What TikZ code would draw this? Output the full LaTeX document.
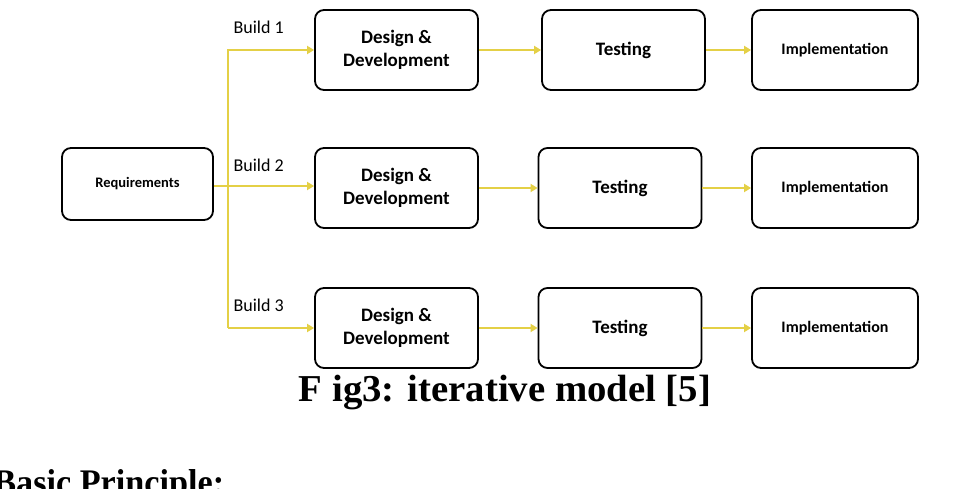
\documentclass[tikz,border=0pt]{standalone}
\usepackage{fontspec}
\setmainfont{Carlito}
\newfontfamily\capfont{Liberation Serif}
\usetikzlibrary{arrows.meta}
\definecolor{ylw}{RGB}{228,208,70}
\begin{document}
\begin{tikzpicture}[x=1pt,y=-1pt,
  box/.style={draw,line width=1.8pt,rounded corners=9pt,align=center,font=\bfseries\fontsize{19}{23}\selectfont,inner sep=0pt},
  flow/.style={draw=ylw,line width=2.6pt,-{Triangle[length=7pt,width=8pt]}},
  lbl/.style={font=\fontsize{18}{20}\selectfont,anchor=west}]
\clip (0,0) rectangle (962,489);
\useasboundingbox (0,0) rectangle (962,489);
\node[box,minimum width=151pt,minimum height=72pt,font=\bfseries\fontsize{14.5}{17}\selectfont] (req) at (137.5,184) {Requirements};
\foreach \r/\y/\tx in {1/50/623.5,2/188/620,3/328/620}{
  \node[box,minimum width=163pt,minimum height=80pt] (d\r) at (396.5,\y) {Design \&\\Development};
  \node[box,minimum width=163pt,minimum height=80pt] (t\r) at (\tx,\y) {Testing};
  \node[box,minimum width=166pt,minimum height=80pt,font=\bfseries\fontsize{16}{19}\selectfont] (i\r) at (835,\y) {Implementation};
  \draw[flow] (d\r) -- (t\r);
  \draw[flow] (t\r) -- (i\r);
  \node[lbl] (b\r) at (230,\y-23) {Build \r};
}
\coordinate (top) at (228,50);
\coordinate (bot) at (228,328);
\coordinate (mid) at (228,186);
\draw[draw=ylw,line width=2.6pt] (req.east |- mid) -- (mid);
\draw[flow] (bot) -- (top) -- (d1.west);
\draw[flow] (mid) -- (d2.west |- mid);
\draw[flow] (bot) -- (d3.west);
\node[font=\capfont\bfseries\fontsize{38}{40}\selectfont,xscale=1.02] (cap) at (505,393) {F ig3: iterative model [5]};
\node[font=\capfont\bfseries\fontsize{36}{38}\selectfont,xscale=0.95,anchor=north west] (bp) at (-10,466) {Basic Principle:};
\end{tikzpicture}
\end{document}
